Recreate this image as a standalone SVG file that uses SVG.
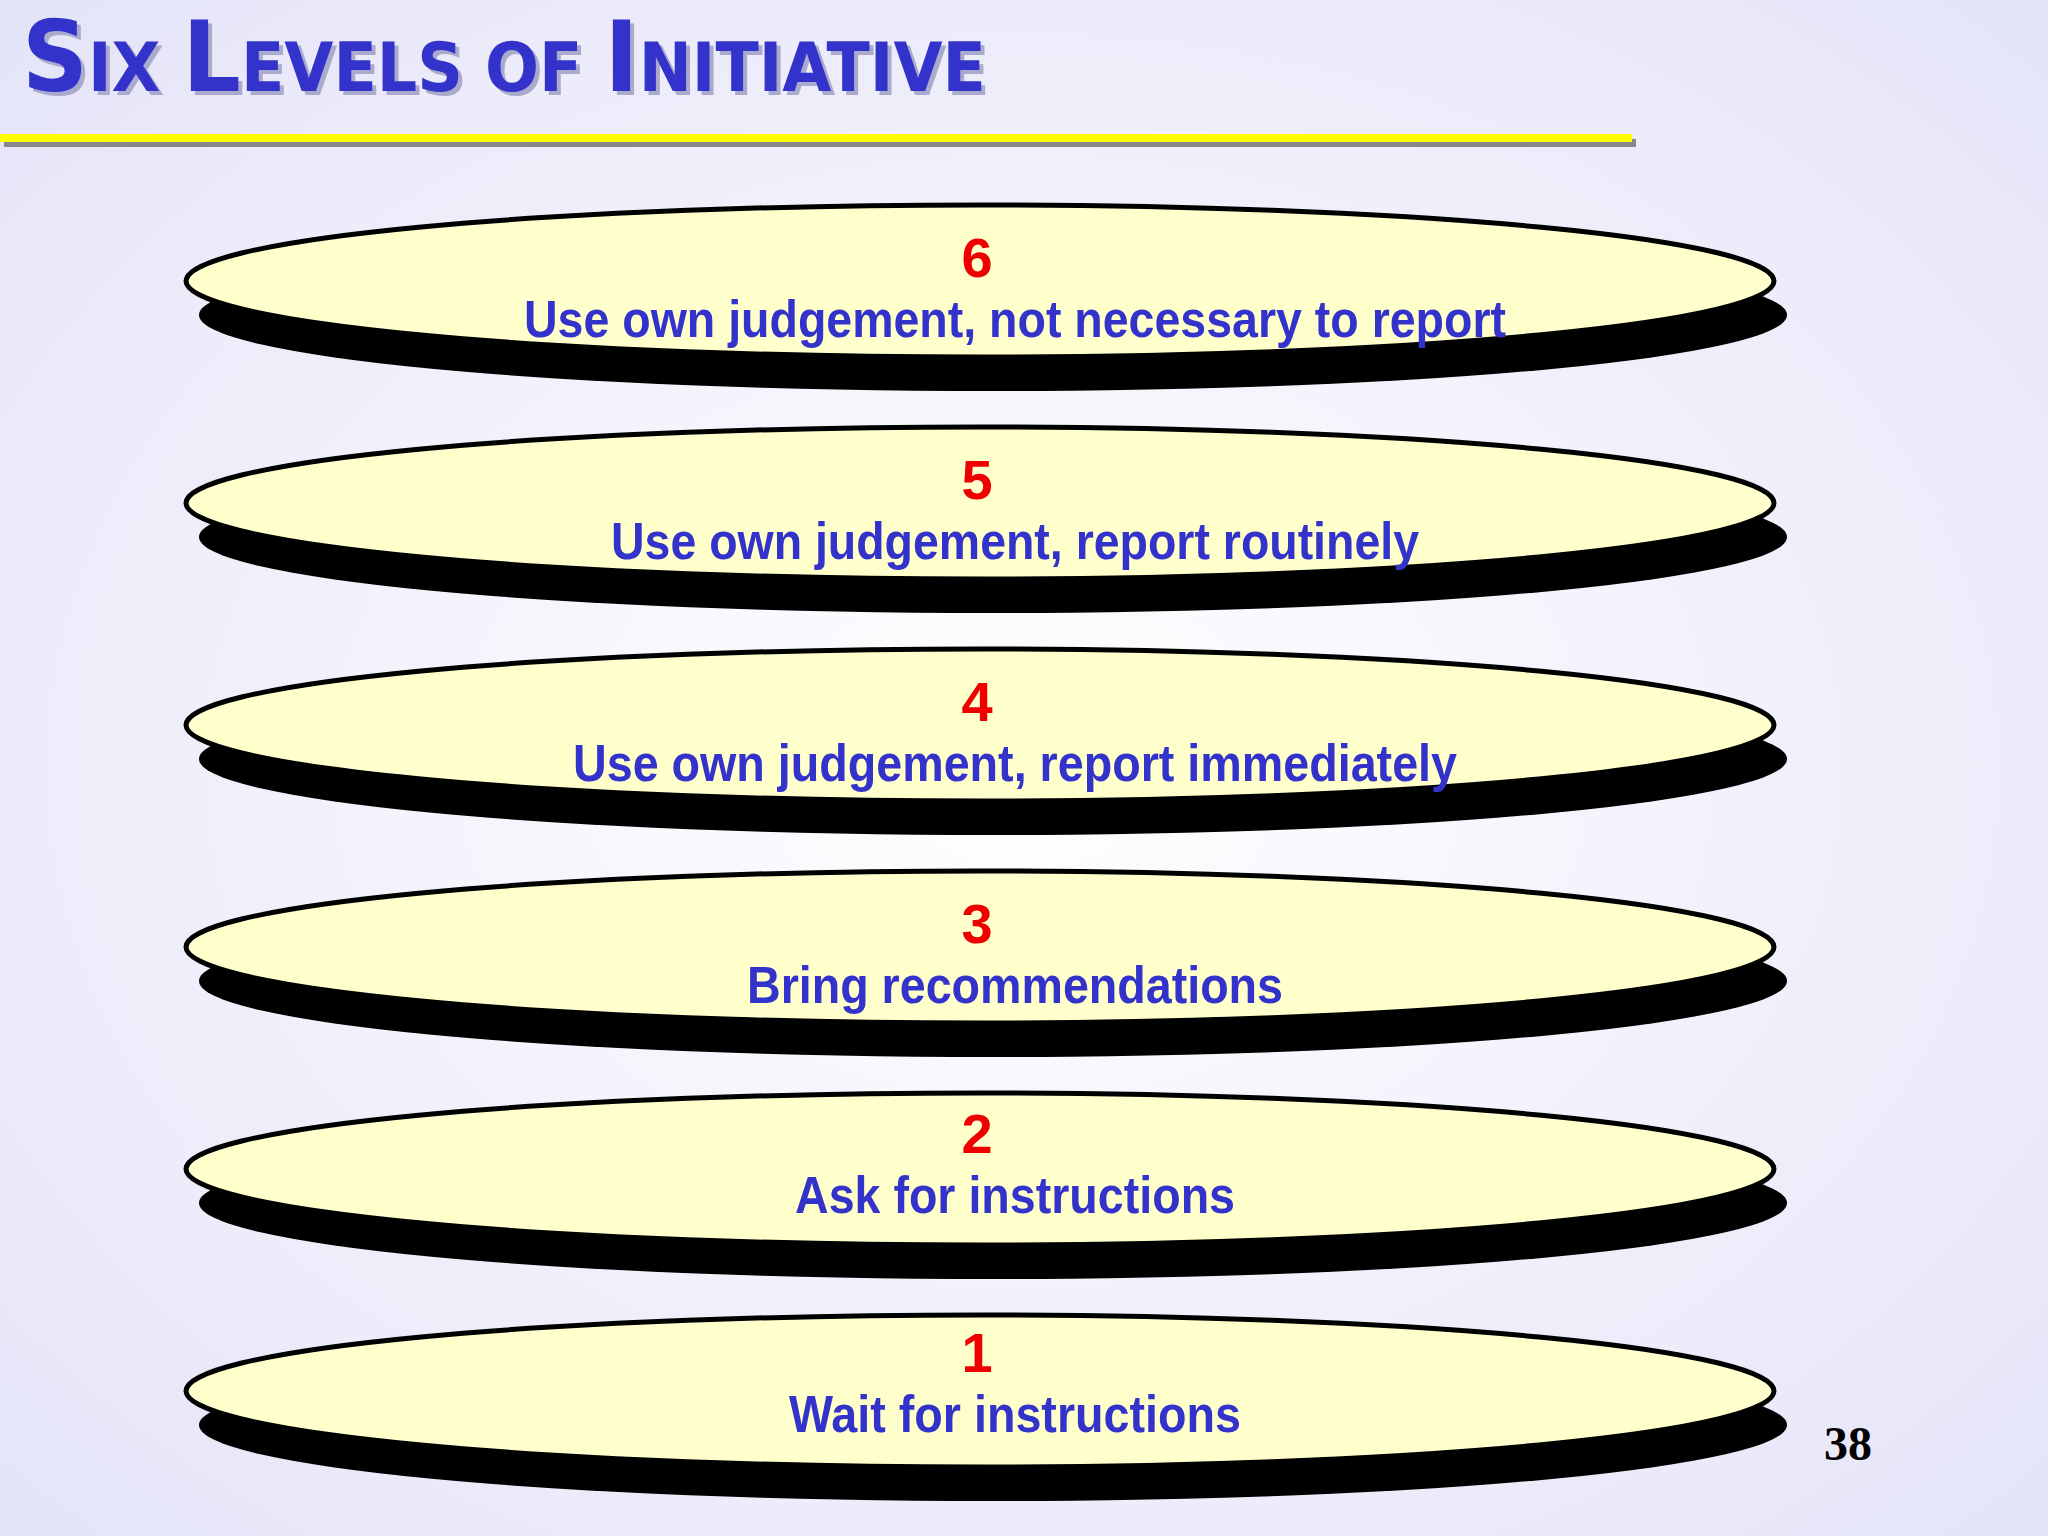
<svg xmlns="http://www.w3.org/2000/svg" width="2048" height="1536" viewBox="0 0 2048 1536">
<defs>
<radialGradient id="bg" cx="0.5" cy="0.5" r="0.7"><stop offset="0" stop-color="#ffffff"/><stop offset="1" stop-color="#e4e4f8"/></radialGradient>
<style>
.sh{fill:#000}
.el{fill:#ffffcc;stroke:#000;stroke-width:5}
.num{font-family:"Liberation Sans",Arial,sans-serif;font-weight:bold;font-size:56px;fill:#ee0000;text-anchor:middle}
.lab{font-family:"Liberation Sans Narrow","Liberation Sans",Arial,sans-serif;font-weight:bold;font-size:52px;fill:#3333cc;text-anchor:middle}
.tt{font-family:"DejaVu Sans",Verdana,sans-serif;font-weight:bold;fill:#3333cc}
</style>
</defs>
<rect width="2048" height="1536" fill="url(#bg)"/>
<g id="title">
<text x="26" y="95" class="tt" style="fill:#aaaacc" font-size="68" textLength="964" lengthAdjust="spacingAndGlyphs"><tspan font-size="98">S</tspan>IX <tspan font-size="98">L</tspan>EVELS OF <tspan font-size="98">I</tspan>NITIATIVE</text>
<text x="22" y="91" class="tt" font-size="68" textLength="964" lengthAdjust="spacingAndGlyphs"><tspan font-size="98">S</tspan>IX <tspan font-size="98">L</tspan>EVELS OF <tspan font-size="98">I</tspan>NITIATIVE</text>
<rect x="4" y="139" width="1632" height="8" fill="#888"/>
<rect x="0" y="134" width="1632" height="8" fill="#ffff00"/>
</g>
<g id="level6"><ellipse class="sh" cx="993" cy="315" rx="794" ry="76"/><ellipse class="el" cx="980" cy="281" rx="794" ry="76"/><text class="num" x="977" y="277">6</text><text class="lab" x="1015" y="337" textLength="982" lengthAdjust="spacingAndGlyphs">Use own judgement, not necessary to report</text></g>
<g id="level5"><ellipse class="sh" cx="993" cy="537" rx="794" ry="76"/><ellipse class="el" cx="980" cy="503" rx="794" ry="76"/><text class="num" x="977" y="499">5</text><text class="lab" x="1015" y="559" textLength="808" lengthAdjust="spacingAndGlyphs">Use own judgement, report routinely</text></g>
<g id="level4"><ellipse class="sh" cx="993" cy="759" rx="794" ry="76"/><ellipse class="el" cx="980" cy="725" rx="794" ry="76"/><text class="num" x="977" y="721">4</text><text class="lab" x="1015" y="781" textLength="884" lengthAdjust="spacingAndGlyphs">Use own judgement, report immediately</text></g>
<g id="level3"><ellipse class="sh" cx="993" cy="981" rx="794" ry="76"/><ellipse class="el" cx="980" cy="947" rx="794" ry="76"/><text class="num" x="977" y="943">3</text><text class="lab" x="1015" y="1003" textLength="536" lengthAdjust="spacingAndGlyphs">Bring recommendations</text></g>
<g id="level2"><ellipse class="sh" cx="993" cy="1203" rx="794" ry="76"/><ellipse class="el" cx="980" cy="1169" rx="794" ry="76"/><text class="num" x="977" y="1153">2</text><text class="lab" x="1015" y="1213" textLength="440" lengthAdjust="spacingAndGlyphs">Ask for instructions</text></g>
<g id="level1"><ellipse class="sh" cx="993" cy="1425" rx="794" ry="76"/><ellipse class="el" cx="980" cy="1391" rx="794" ry="76"/><text class="num" x="977" y="1372">1</text><text class="lab" x="1015" y="1432" textLength="452" lengthAdjust="spacingAndGlyphs">Wait for instructions</text></g>
<g id="connectors"/>
<text x="1848" y="1460" text-anchor="middle" font-family="Liberation Serif,serif" font-weight="bold" font-size="48">38</text>
</svg>
